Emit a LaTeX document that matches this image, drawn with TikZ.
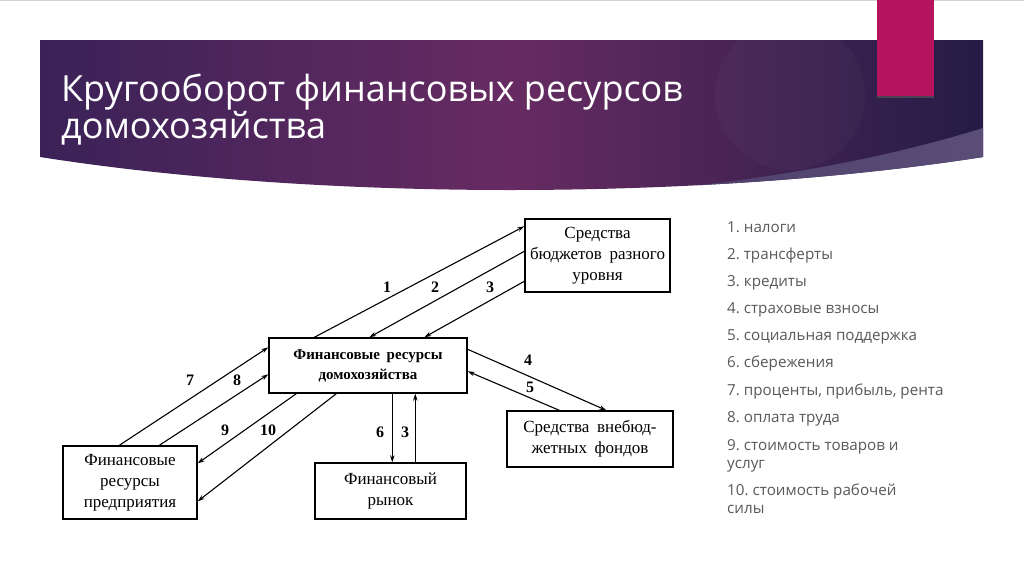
\documentclass[tikz,border=0pt]{standalone}
\usepackage{fontspec}
\setmainfont{Liberation Serif}
\newfontfamily\diafont{Liberation Serif}[WordSpace=1.8]
\newfontfamily\titlefont{Open Sans}
\usetikzlibrary{arrows.meta,calc}
\frenchspacing
\definecolor{pinkbar}{HTML}{B5135E}
\definecolor{bandL}{HTML}{3A2257}
\definecolor{bandM}{HTML}{672B62}
\definecolor{bandR}{HTML}{241C45}
\definecolor{strip}{HTML}{5A4D78}
\definecolor{listgrey}{HTML}{595959}
\tikzset{
  box/.style={draw=black, line width=1.4pt, fill=white, align=center, inner sep=2pt,
    font=\diafont\fontsize{17}{21}\selectfont},
  arr/.style={line width=1.1pt, -{Stealth[length=7pt,width=4.5pt]}},
  num/.style={font=\fontsize{16}{16}\selectfont\bfseries, inner sep=0pt},
  item/.style={anchor=base west, text=listgrey, inner sep=0pt, font=\titlefont\fontsize{15.2}{16}\selectfont},
  ttl/.style={anchor=base west, text=white, inner sep=0pt, font=\titlefont\fontsize{36}{40}\selectfont}
}
\begin{document}
\begin{tikzpicture}[x=1pt,y=-1pt]
\useasboundingbox (0,0) rectangle (1024,576);
\fill[white] (0,0) rectangle (1024,576);
\draw[gray!35, line width=1pt] (0,0.5) -- (1024,0.5);
% banner
\begin{scope}
\clip (40,40) -- (983,40) -- (983,157) .. controls (700,201) and (320,201) .. (40,157) -- cycle;
\shade[left color=bandL, right color=bandR, middle color=bandM] (40,40) rectangle (983,210);
\fill[white, opacity=0.025] (790,95) circle (75);
\shade[left color=strip!70!bandR, right color=strip] (983,128) .. controls (880,160) and (760,182) .. (600,195) -- (600,230) -- (983,230) -- cycle;
\end{scope}
% pink bar
\fill[black!60, opacity=0.5] (877,96) rectangle (934,98);
\fill[pinkbar] (877,0) rectangle (934,96);
% title
\node[ttl] (t1) at (61,101) {Кругооборот финансовых ресурсов};
\node[ttl] (t2) at (61,138) {домохозяйства};
% boxes
\node[box, minimum width=145pt, minimum height=73pt] (budget) at (597.5,255.5) {Средства\\бюджетов разного\\уровня};
\node[box, minimum width=198pt, minimum height=55pt, font=\diafont\fontsize{15}{20}\selectfont\bfseries] (house) at (368,365.5) {Финансовые ресурсы\\домохозяйства};
\node[box, minimum width=134pt, minimum height=73pt] (ent) at (130,482.5) {Финансовые\\ресурсы\\предприятия};
\node[box, minimum width=151pt, minimum height=56pt] (market) at (390.5,491) {Финансовый\\рынок};
\node[box, minimum width=166pt, minimum height=56pt] (extra) at (590,439) {Средства внебюд-\\жетных фондов};
% arrows
\draw[arr] ($(house.north west)+(46,0)$) -- ($(budget.north west)+(0,8)$);
\draw[arr] ($(budget.north west)+(0,33)$) -- ($(house.north west)+(101,0)$);
\draw[arr] ($(budget.north west)+(0,63)$) -- ($(house.north west)+(156,0)$);
\draw[arr] ($(house.north east)+(0,12)$) -- ($(extra.north west)+(100,0)$);
\draw[arr] ($(extra.north west)+(53,0)$) -- ($(house.north east)+(0,34)$);
\draw[arr] ($(house.south west)+(124,0)$) -- ($(market.north west)+(78,0)$);
\draw[arr] ($(market.north west)+(101,0)$) -- ($(house.south west)+(147,0)$);
\draw[arr] ($(ent.north west)+(57,0)$) -- ($(house.north west)+(0,10)$);
\draw[arr] ($(ent.north west)+(97,0)$) -- ($(house.north west)+(0,37)$);
\draw[arr] ($(house.south west)+(28,0)$) -- ($(ent.north east)+(0,18)$);
\draw[arr] ($(house.south west)+(68,0)$) -- ($(ent.north east)+(0,56)$);
% labels
\node[num] (l1) at (387,287) {1};
\node[num] (l2) at (435,287) {2};
\node[num] (l3) at (490,287) {3};
\node[num] (l4) at (528,360) {4};
\node[num] (l5) at (530,387) {5};
\node[num] (l6) at (380,432) {6};
\node[num] (l3b) at (405,432) {3};
\node[num] (l7) at (190,380) {7};
\node[num] (l8) at (237,380) {8};
\node[num] (l9) at (225,430) {9};
\node[num] (l10) at (268,430) {10};
% list
\node[item] (i1) at (727,232) {1. налоги};
\node[item] (i2) at (727,259) {2. трансферты};
\node[item] (i3) at (727,286) {3. кредиты};
\node[item] (i4) at (727,313) {4. страховые взносы};
\node[item] (i5) at (727,340) {5. социальная поддержка};
\node[item] (i6) at (727,367) {6. сбережения};
\node[item] (i7) at (727,395) {7. проценты, прибыль, рента};
\node[item] (i8) at (727,422) {8. оплата труда};
\node[item] (i9) at (727,450) {9. стоимость товаров и};
\node[item] (i9b) at (727,468) {услуг};
\node[item] (i10) at (727,495) {10. стоимость рабочей};
\node[item] (i10b) at (727,513) {силы};
\end{tikzpicture}
\end{document}
